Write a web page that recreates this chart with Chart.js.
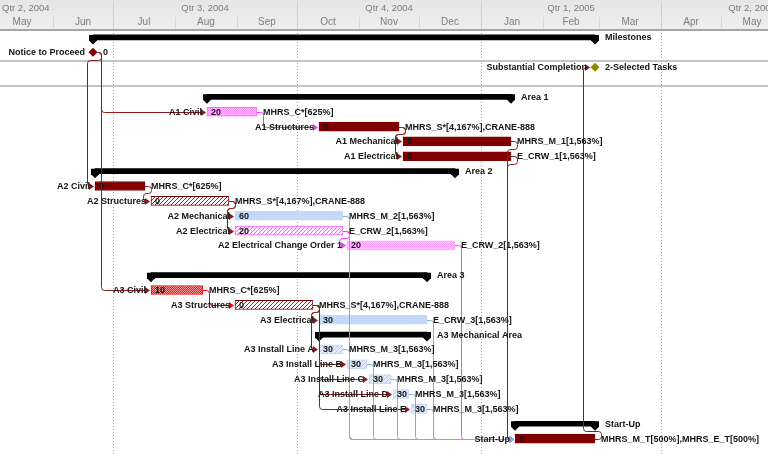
<!DOCTYPE html>
<html><head><meta charset="utf-8">
<script src="https://cdn.jsdelivr.net/npm/chart.js@4.4.1/dist/chart.umd.min.js"></script>
<style>html,body{margin:0;padding:0;background:#fff;overflow:hidden}canvas{display:block}</style>
</head><body>
<canvas id="c" width="768" height="454"></canvas>
<script>
// ---------------- DATA ----------------
const rowNames = ["Milestones","Notice to Proceed","Substantial Completion","","Area 1","A1 Civil","A1 Structures","A1 Mechanical","A1 Electrical","Area 2","A2 Civil","A2 Structures","A2 Mechanical","A2 Electrical","A2 Electrical Change Order 1","","Area 3","A3 Civil","A3 Structures","A3 Electrical","A3 Mechanical Area","A3 Install Line A","A3 Install Line B","A3 Install Line C","A3 Install Line D","A3 Install Line E","Start-Up","Start-Up"];
const rowKinds = ["summary","milestone","milestone","blank","summary","task","task","task","task","summary","task","task","task","task","task","blank","summary","task","task","task","summary","task","task","task","task","task","summary","task"];
const rowLevels = [0,1,1,0,0,1,1,1,1,0,1,1,1,1,1,0,0,1,1,1,1,2,2,2,2,2,0,1];
const startDates = [null,"2004-06-21","2005-02-27",null,null,"2004-08-17","2004-10-12","2004-11-23","2004-11-23",null,"2004-06-22","2004-07-20","2004-08-31","2004-08-31","2004-10-26",null,null,"2004-07-20","2004-08-31","2004-10-12",null,"2004-10-12","2004-10-26","2004-11-06","2004-11-18","2004-11-27",null,"2005-01-18"];
const finishDates = [null,null,null,null,null,"2004-09-11","2004-11-21","2005-01-16","2005-01-16",null,"2004-07-17","2004-08-28","2004-10-24","2004-10-24","2004-12-19",null,null,"2004-08-15","2004-10-09","2004-12-05",null,"2004-10-24","2004-11-05","2004-11-17","2004-11-26","2004-12-05",null,"2005-02-27"];
const barValues = [null,"0",null,null,null,"20","0","0","0",null,"0","0","60","20","20",null,null,"10","0","30",null,"30","30","30","30","30",null,"0"];
const resourceLabels = [null,null,"2-Selected Tasks",null,null,"MHRS_C*[625%]","MHRS_S*[4,167%],CRANE-888","MHRS_M_1[1,563%]","E_CRW_1[1,563%]",null,"MHRS_C*[625%]","MHRS_S*[4,167%],CRANE-888","MHRS_M_2[1,563%]","E_CRW_2[1,563%]","E_CRW_2[1,563%]",null,null,"MHRS_C*[625%]","MHRS_S*[4,167%],CRANE-888","E_CRW_3[1,563%]",null,"MHRS_M_3[1,563%]","MHRS_M_3[1,563%]","MHRS_M_3[1,563%]","MHRS_M_3[1,563%]","MHRS_M_3[1,563%]",null,"MHRS_M_T[500%],MHRS_E_T[500%]"];
const predecessors = [[],[],[27],[],[],[1],[5],[6],[6],[],[1],[10],[11],[11],[13],[],[],[1],[17],[18],[],[18],[18],[18],[18],[18],[],[7,8,13,14,12,19,21,22,23,24,25]];
const monthNames = ["Jan","Feb","Mar","Apr","May","Jun","Jul","Aug","Sep","Oct","Nov","Dec"];
const viewStart = "2004-05-05T12:00";
const viewEnd = "2005-05-24T12:00";

// ---------------- STYLES ----------------
const barStyles = ["","maroon","olive","","","pinkDots","maroon","maroon","maroon","","maroon","maroonHatch","blue","pinkHatch","pinkLight","","","redCheck","maroonHatch","blue","","blueHatch","blueHatch","blueHatch","blueHatch","blueHatch","","maroon"];

const ORIGIN = Date.UTC(2004,6,1);
const dayOf = s => (Date.parse(s.length > 10 ? s + ':00Z' : s + 'T00:00:00Z') - ORIGIN) / 86400000;

const pctx = document.createElement('canvas').getContext('2d');
function pattern(bg, fg, type) {
  const n = type === 'diag' ? 4 : 2;
  const c = document.createElement('canvas'); c.width = n; c.height = n;
  const g = c.getContext('2d');
  g.fillStyle = bg; g.fillRect(0, 0, n, n);
  g.fillStyle = fg;
  for (let x = 0; x < n; x++) for (let y = 0; y < n; y++) {
    if (type === 'diag' ? (x + y) % 4 === 3 : (x + y) % 2 === 0) g.fillRect(x, y, 1, 1);
  }
  return pctx.createPattern(c, 'repeat');
}
const STYLE = {
  maroon: {fill:'#800000', border:'#800000', line:'#8b1c1c'},
  olive: {fill:'#8c8c00', border:'#8c8c00', line:'#8c8c00'},
  pinkDots: {fill:pattern('#ffc0ff','#ff90ff','checker'), border:'#ff66ff', line:'#ff33ff'},
  pinkLight: {fill:pattern('#ffc8ff','#ffa0ff','checker'), border:'#ffaaff', line:'#ff44ff'},
  pinkHatch: {fill:pattern('#ffe8ff','#ff66ff','diag'), border:'#ff66ff', line:'#ff33ff'},
  maroonHatch: {fill:pattern('#ffffff','#9a2a2a','diag'), border:'#800000', line:'#8b1c1c'},
  blue: {fill:'#c3d9f8', border:'#c3d9f8', line:'#7fa9ec'},
  blueHatch: {fill:pattern('#e2ecfb','#b2cbf2','diag'), border:'#c3d9f8', line:'#7fa9ec'},
  redCheck: {fill:pattern('#ff1010','#ff9a9a','checker'), border:'#ff0000', line:'#ff0000'}
};
const st = i => STYLE[barStyles[i]] || STYLE.maroon;

function summarySpan(i) {
  let lo = Infinity, hi = -Infinity;
  for (let j = i + 1; j < rowNames.length; j++) {
    if (rowKinds[j] === 'blank') continue;
    if (rowLevels[j] <= rowLevels[i]) break;
    if (rowKinds[j] === 'summary') continue;
    const s = dayOf(startDates[j]);
    const f = finishDates[j] ? dayOf(finishDates[j]) : s;
    lo = Math.min(lo, s); hi = Math.max(hi, f);
  }
  return [lo, hi];
}

const taskData = rowKinds.map((k, i) => k === 'task' ? [dayOf(startDates[i]), dayOf(finishDates[i])] : null);
const summaryData = rowKinds.map((k, i) => k === 'summary' ? summarySpan(i) : null);
const milestoneData = rowKinds.map((k, i) => k === 'milestone' ? dayOf(startDates[i]) : null);

const FONT = 'bold 9px "Liberation Sans", Arial, sans-serif';
const TXT = '#141414';

function rowGeom(chart, i) {
  const x = chart.scales.x, y = chart.scales.y;
  const cy = y.getPixelForValue(i);
  const k = rowKinds[i];
  if (k === 'task') return {cy, s: x.getPixelForValue(taskData[i][0]), e: x.getPixelForValue(taskData[i][1])};
  if (k === 'milestone') { const c = x.getPixelForValue(milestoneData[i]); return {cy, s: c - 4, e: c + 4, c}; }
  if (k === 'summary') return {cy, s: x.getPixelForValue(summaryData[i][0]), e: x.getPixelForValue(summaryData[i][1])};
  return null;
}

function roundedPath(ctx, pts, r) {
  ctx.beginPath(); ctx.moveTo(pts[0][0], pts[0][1]);
  for (let i = 1; i < pts.length - 1; i++) ctx.arcTo(pts[i][0], pts[i][1], pts[i+1][0], pts[i+1][1], r);
  ctx.lineTo(pts[pts.length-1][0], pts[pts.length-1][1]);
  ctx.stroke();
}

const ganttPlugin = {
  id: 'gantt',
  beforeDatasetsDraw(chart) {
    const ctx = chart.ctx, xs = chart.scales.x, ys = chart.scales.y, a = chart.chartArea;
    ctx.save();
    ctx.strokeStyle = '#a8a8a8'; ctx.lineWidth = 1; ctx.setLineDash([1, 2]);
    for (let y = 2004; y <= 2005; y++) for (let m = 0; m < 12; m += 3) {
      const px = xs.getPixelForValue(dayOf(`${y}-${String(m+1).padStart(2,'0')}-01`));
      if (px > a.left + 1 && px < a.right - 1) {
        ctx.beginPath(); ctx.moveTo(Math.round(px) + 0.5, a.top); ctx.lineTo(Math.round(px) + 0.5, a.bottom + 10); ctx.stroke();
      }
    }
    ctx.setLineDash([]);
    ctx.strokeStyle = '#c4c4c4'; ctx.lineWidth = 2;
    [[1,2,0.62],[3,4,0.3]].forEach(([p, q, f]) => {
      const yp = ys.getPixelForValue(p), yq = ys.getPixelForValue(q);
      const yy = Math.round(yp + (yq - yp) * f);
      ctx.beginPath(); ctx.moveTo(0, yy); ctx.lineTo(chart.width, yy); ctx.stroke();
    });
    ctx.restore();
  },
  afterDatasetsDraw(chart) {
    const ctx = chart.ctx, ys = chart.scales.y;
    const pitch = Math.abs(ys.getPixelForValue(1) - ys.getPixelForValue(0));
    ctx.save();
    ctx.fillStyle = '#000';
    rowKinds.forEach((k, i) => {
      if (k !== 'summary') return;
      const g = rowGeom(chart, i);
      [g.s, g.e].forEach(px => {
        ctx.beginPath();
        ctx.moveTo(px - 4, g.cy - 2.5); ctx.lineTo(px + 4, g.cy - 2.5); ctx.lineTo(px + 4, g.cy + 3);
        ctx.lineTo(px, g.cy + 7); ctx.lineTo(px - 4, g.cy + 3); ctx.closePath(); ctx.fill();
      });
    });
    ctx.lineWidth = 1;
    rowKinds.forEach((k, j) => {
      predecessors[j].forEach(i => {
        const p = rowGeom(chart, i), q = rowGeom(chart, j);
        const col = st(i).line;
        ctx.strokeStyle = col; ctx.fillStyle = col;
        const x0 = Math.round(p.e), y0 = Math.round(p.cy) + 0.5;
        const x1 = Math.round(q.s), y1 = Math.round(q.cy) + 0.5;
        const xa = x0 + (rowKinds[i] === 'milestone' ? 4 : 6) + 0.5;
        let pts;
        if (x1 - 6 >= xa) pts = [[x0, y0], [xa, y0], [xa, y1], [x1 - 4, y1]];
        else {
          const ym = Math.round(p.cy + (q.cy > p.cy ? 1 : -1) * pitch / 2) + 0.5;
          const xb = x1 - 7.5;
          pts = [[x0, y0], [xa, y0], [xa, ym], [xb, ym], [xb, y1], [x1 - 4, y1]];
        }
        roundedPath(ctx, pts, 3);
        ctx.beginPath(); ctx.moveTo(x1 - 6, y1 - 3.5); ctx.lineTo(x1 - 1, y1); ctx.lineTo(x1 - 6, y1 + 3.5); ctx.closePath(); ctx.fill();
      });
    });
    ctx.font = FONT; ctx.fillStyle = TXT; ctx.textBaseline = 'middle';
    rowKinds.forEach((k, i) => {
      const g = rowGeom(chart, i); if (!g) return;
      const cy = g.cy + 0.5;
      if (k === 'summary') {
        ctx.textAlign = 'left'; ctx.fillText(rowNames[i], g.e + 10, cy);
        return;
      }
      if (k === 'milestone') {
        ctx.textAlign = 'right'; ctx.fillText(rowNames[i], g.c - 8, cy);
        ctx.textAlign = 'left'; ctx.fillText([barValues[i], resourceLabels[i]].filter(Boolean).join(' '), g.c + 10, cy);
        return;
      }
      ctx.textAlign = 'right'; ctx.fillText(rowNames[i], g.s - 5, cy);
      ctx.textAlign = 'left';
      if (barValues[i] !== null) ctx.fillText(barValues[i], g.s + 4, cy);
      if (resourceLabels[i]) ctx.fillText(resourceLabels[i], g.e + 6, cy);
    });
    ctx.restore();
  },
  afterDraw(chart) {
    const ctx = chart.ctx, xs = chart.scales.x, W = chart.width;
    const H = chart.chartArea.top;
    ctx.save();
    const grd = ctx.createLinearGradient(0, 0, 0, H);
    grd.addColorStop(0, '#e6e6e6'); grd.addColorStop(1, '#eeeeee');
    ctx.fillStyle = grd; ctx.fillRect(0, 0, W, H);
    ctx.textAlign = 'center'; ctx.textBaseline = 'middle';
    let y = 2004, m = 3;
    while (y * 12 + m <= 2005 * 12 + 5) {
      const ny = m === 11 ? y + 1 : y, nm = (m + 1) % 12;
      const x0 = xs.getPixelForValue(dayOf(`${y}-${String(m+1).padStart(2,'0')}-01`));
      const x1 = xs.getPixelForValue(dayOf(`${ny}-${String(nm+1).padStart(2,'0')}-01`));
      ctx.fillStyle = '#7c7c7c';
      ctx.font = '10px "Liberation Sans", Arial, sans-serif';
      ctx.fillText(monthNames[m], (x0 + x1) / 2, 22);
      if (m % 3 === 0) {
        const q = Math.floor(m / 3) + 1;
        const qEnd = xs.getPixelForValue(dayOf(`${m === 9 ? y + 1 : y}-${String((m + 3) % 12 + 1).padStart(2,'0')}-01`));
        ctx.font = '9.5px "Liberation Sans", Arial, sans-serif';
        const lbl = `Qtr ${q}, ${y}`;
        const w = ctx.measureText(lbl).width;
        ctx.fillText(lbl, Math.max((x0 + qEnd) / 2, w / 2 + 2), 8);
        ctx.fillStyle = '#d2d2d2'; ctx.fillRect(Math.round(x0), 2, 1, H - 3);
      } else {
        ctx.fillStyle = '#d6d6d6'; ctx.fillRect(Math.round(x0), 17, 1, 11);
      }
      y = ny; m = nm;
    }
    ctx.fillStyle = '#a6a6a6'; ctx.fillRect(0, H - 1, W, 2);
    ctx.restore();
  }
};

new Chart(document.getElementById('c'), {
  type: 'bar',
  data: {
    labels: rowNames,
    datasets: [
      {
        label: 'Tasks', indexAxis: 'y', grouped: false, data: taskData,
        backgroundColor: rowKinds.map((k, i) => k === 'task' ? st(i).fill : 'rgba(0,0,0,0)'),
        borderColor: rowKinds.map((k, i) => k === 'task' ? st(i).border : 'rgba(0,0,0,0)'),
        borderWidth: 1, borderSkipped: false, barThickness: 9, order: 2
      },
      {
        label: 'Summaries', indexAxis: 'y', grouped: false, data: summaryData,
        backgroundColor: '#000', borderWidth: 0, barThickness: 5, order: 1
      },
      {
        type: 'line', label: 'Milestones', indexAxis: 'y', data: milestoneData,
        showLine: false, pointStyle: 'rectRot', pointRadius: 4.5, pointBorderWidth: 0,
        pointBackgroundColor: rowKinds.map((k, i) => k === 'milestone' ? st(i).fill : 'rgba(0,0,0,0)'),
        order: 0
      }
    ]
  },
  options: {
    indexAxis: 'y', responsive: false, animation: false, devicePixelRatio: 1,
    layout: {autoPadding: false, padding: {top: 30, bottom: 8, left: 0, right: 0}},
    plugins: {legend: {display: false}, tooltip: {enabled: false}},
    scales: {
      x: {type: 'linear', display: false, min: dayOf(viewStart), max: dayOf(viewEnd)},
      y: {type: 'category', display: false, offset: true}
    }
  },
  plugins: [ganttPlugin]
});
</script>
</body></html>
